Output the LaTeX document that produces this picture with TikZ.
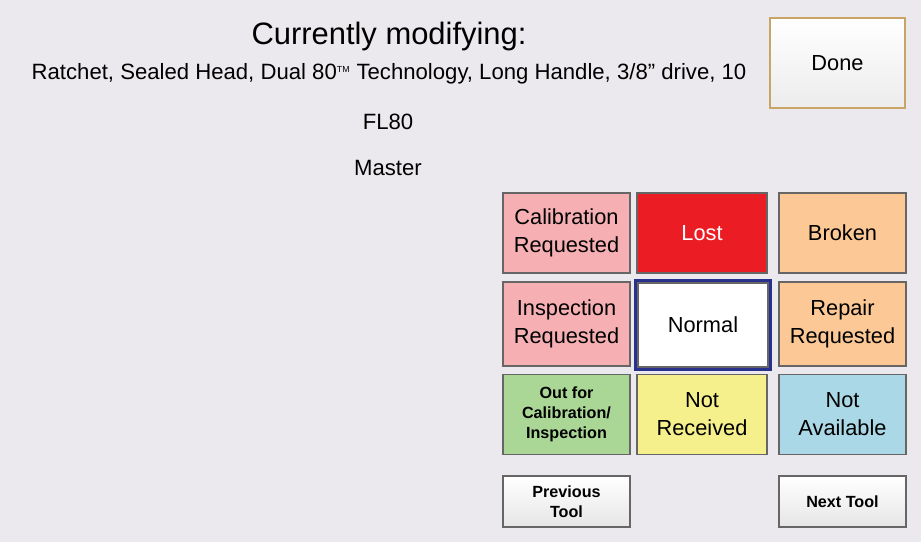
\documentclass[tikz,border=0pt]{standalone}
\usepackage{fontspec}
\setmainfont{Liberation Sans}
\usetikzlibrary{positioning}
\definecolor{screen}{RGB}{235,233,237}
\definecolor{pinkbtn}{RGB}{246,176,180}
\definecolor{lostred}{RGB}{236,28,36}
\definecolor{orangebtn}{RGB}{252,200,150}
\definecolor{greenbtn}{RGB}{170,215,150}
\definecolor{yellowbtn}{RGB}{246,240,140}
\definecolor{bluebtn}{RGB}{170,216,230}
\definecolor{navy}{RGB}{40,50,140}
\definecolor{tan}{RGB}{200,165,100}
\tikzset{
  btn/.style={draw=gray!80!black, line width=0.8pt, minimum width=2.54cm, minimum height=1.6cm,
    align=center, inner sep=0pt, font=\fontsize{12.4}{16}\selectfont},
  small/.style={font=\fontsize{9.2}{11.5}\selectfont\bfseries}
}
\begin{document}
\begin{tikzpicture}[x=0.02cm,y=-0.02cm]
\fill[screen] (0,0) rectangle (921,542);
\useasboundingbox (0,0) rectangle (921,542);
% header
\node (title) at (389,37) {\fontsize{17.6}{20}\selectfont Currently modifying:};
\node (item) at (389,74) {\fontsize{12.6}{14}\selectfont Ratchet, Sealed Head, Dual 80\textsuperscript{\tiny TM} Technology, Long Handle, 3/8" drive, 10};
\node (code) at (388,122) {\fontsize{12.6}{14}\selectfont FL80};
\node (role) at (388,168) {\fontsize{12.6}{14}\selectfont Master};
\node[btn, top color=white, bottom color=gray!15, draw=tan, minimum width=2.7cm, minimum height=1.8cm] (done) at (837.5,63) {Done};
% status grid
\node[btn, fill=pinkbtn] (calreq) at (566.5,233) {Calibration\\Requested};
\node[btn, fill=lostred, text=white, minimum width=2.6cm] (lost) at (702,233) {Lost};
\node[btn, fill=orangebtn] (broken) at (842.5,233) {Broken};
\node[btn, fill=pinkbtn, minimum height=1.68cm] (insreq) at (566.5,324) {Inspection\\Requested};
\draw[navy, line width=1.8pt] (636,281) rectangle (770,369);
\node[btn, fill=white, minimum width=2.6cm, minimum height=1.68cm] (normal) at (703,325) {Normal};
\node[btn, fill=orangebtn, minimum height=1.68cm] (repreq) at (842.5,324) {Repair\\Requested};
\node[btn, fill=greenbtn, small] (outcal) at (566.5,414.5) {Out for\\Calibration/\\Inspection};
\node[btn, fill=yellowbtn, minimum width=2.6cm] (notrec) at (702,414.5) {Not\\Received};
\node[btn, fill=bluebtn] (notavail) at (842.5,414.5) {Not\\Available};
% navigation
\node[btn, top color=white, bottom color=gray!20, small, minimum height=1.02cm] (prev) at (566.5,501.5) {Previous\\Tool};
\node[btn, top color=white, bottom color=gray!20, small, minimum height=1.02cm] (next) at (842.5,501.5) {Next Tool};
\end{tikzpicture}
\end{document}
